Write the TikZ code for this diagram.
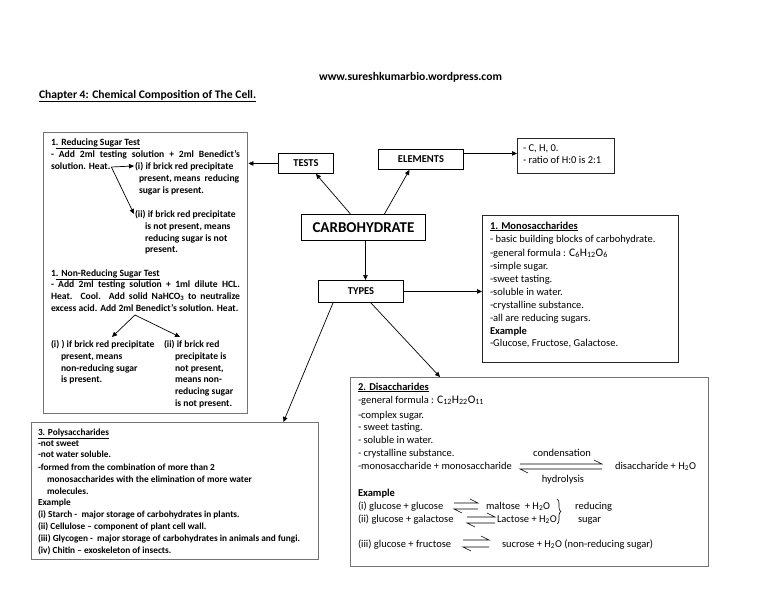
\documentclass[tikz,border=0pt]{standalone}
\usepackage{fontspec}
\setmainfont{Carlito}
\usetikzlibrary{arrows.meta,decorations.pathreplacing}
\newcommand{\fs}[1]{\fontsize{#1}{#1}\selectfont}
\newcommand{\eqharp}[4]{\draw[harp] (#1,#3) -- (#2,#3) -- ++(-8,-4); \draw[harp] (#2,#4) -- (#1,#4) -- ++(8,4);}
\begin{document}
\begin{tikzpicture}[x=1pt,y=-1pt,
  tl/.style={anchor=base west,inner sep=0pt,outer sep=0pt},
  tc/.style={anchor=base,inner sep=0pt,outer sep=0pt},
  bigbox/.style={draw=black!55,line width=1.4pt,anchor=north west,inner sep=0pt},
  thinbox/.style={draw=black!85,line width=0.9pt,anchor=north west,inner sep=0pt},
  lbl/.style={draw=black,line width=0.9pt,anchor=north west,inner sep=0pt,font=\bfseries\fs{10.5}},
  arr/.style={line width=0.7pt,-{Triangle[length=5pt,width=4.5pt]}},
  harp/.style={line width=0.6pt},
]
\useasboundingbox[fill=white] (0,0) rectangle (768,594);

% header
\node[tc,font=\bfseries\fs{11.6}] (url) at (410.5,81) {www.sureshkumarbio.wordpress.com};
\node[tl,font=\bfseries\fs{11.6}] (chap) at (39,98) {\underline{Chapter 4: Chemical Composition of The Cell.}};

% boxes
\node[bigbox,minimum width=204pt,minimum height=281pt] (lbox) at (43,132) {};
\node[thinbox,minimum width=97pt,minimum height=35pt] (ebox) at (517,138) {};
\node[thinbox,minimum width=196pt,minimum height=147pt] (mbox) at (482,215) {};
\node[bigbox,minimum width=358pt,minimum height=189pt] (dbox) at (350,377) {};
\node[bigbox,minimum width=287pt,minimum height=137pt] (pbox) at (31,422) {};

% label boxes
\node[lbl,minimum width=55pt,minimum height=20pt] (tests) at (278,153) {TESTS};
\node[lbl,minimum width=85pt,minimum height=20pt] (elements) at (378,149) {ELEMENTS};
\node[lbl,minimum width=124pt,minimum height=26pt,font=\bfseries\fs{15}] (carb) at (301,214) {CARBOHYDRATE};
\node[lbl,minimum width=85pt,minimum height=22pt] (types) at (318,280) {TYPES};

% connectors
\draw[arr] (tests.west) -- (tests.west -| lbox.east);
\draw[arr] ([xshift=-13pt]carb.north) -- ([xshift=10pt]tests.south);
\draw[arr] ([xshift=21pt]carb.north) -- ([xshift=-11.5pt]elements.south);
\draw[arr] ([yshift=6pt]elements.east) -- ([yshift=6pt]elements.east -| ebox.west);
\draw[arr] ([xshift=2pt]carb.south) -- ([xshift=2pt]carb.south |- types.north);
\draw[arr] (types.east) -- (types.east -| mbox.west);
\draw[arr] ([xshift=15pt]types.south west) -- ([xshift=-36pt]pbox.north east);
\draw[arr] ([xshift=-33pt]types.south east) -- ([xshift=90pt]dbox.north west);

% left box: reducing sugar test
\foreach \x/\y/\t [count=\i] in {
 51/145/{1\underline{. Reducing Sugar Test}},
 51/157/{\makebox[189pt][s]{- Add 2ml testing solution + 2ml Benedict's}},
 51/169/{solution. Heat.},
 135/169/{(i) if brick red precipitate},
 139/181/{present, means \ reducing},
 139/193/{sugar is present.},
 135/217/{(ii) if brick red precipitate},
 145/229/{is not present, means},
 145/241/{reducing sugar is not},
 145/252/{present.}}
 \node[tl,font=\bfseries\fs{9.6}] (ra\i) at (\x,\y) {\t};
\draw[arr] ([xshift=1pt,yshift=2pt]ra3.base east) -- ([xshift=-1pt,yshift=3pt]ra4.base west);
\draw[arr] ([xshift=1pt,yshift=2pt]ra3.base east) -- ([xshift=-1pt,yshift=3pt]ra7.base west);

% left box: non-reducing sugar test
\foreach \x/\y/\t [count=\i] in {
 51/276/{1\underline{. Non-Reducing Sugar Test}},
 51/287/{\makebox[189pt][s]{- Add 2ml testing solution + 1ml dilute HCL.}},
 51/299/{\makebox[189pt][s]{Heat. Cool. Add solid NaHCO\textsubscript{3} to neutralize}},
 51/311/{excess acid. Add 2ml Benedict's solution. Heat.},
 51/347/{(i) ) if brick red precipitate},
 61/359/{present, means},
 61/371/{non-reducing sugar},
 61/382/{is present.},
 164/347/{(ii) if brick red},
 175/359/{precipitate is},
 175/371/{not present,},
 175/382/{means non-},
 175/394/{reducing sugar},
 175/406/{is not present.}}
 \node[tl,font=\bfseries\fs{9.6}] (rb\i) at (\x,\y) {\t};
\coordinate (nrf) at (135,315);
\coordinate (nra) at (112,337);
\coordinate (nrb) at (180,337);
\draw[arr] (nrf) -- (nra);
\draw[arr] (nrf) -- (nrb);

% elements text
\node[tl,font=\fs{10.5}] (e1) at (523,151) {- C, H, 0.};
\node[tl,font=\fs{10.5}] (e2) at (523,163) {- ratio of H:0 is 2:1};

% monosaccharides
\foreach \y/\t [count=\i] in {
 229/{\bfseries\underline{1. Monosaccharides}},
 242/{- basic building blocks of carbohydrate.},
 256/{-general formula : {\fs{11.5}C\textsubscript{6}H\textsubscript{12}O\textsubscript{6}}},
 269/{-simple sugar.},
 282/{-sweet tasting.},
 295/{-soluble in water.},
 308/{-crystalline substance.},
 321/{-all are reducing sugars.},
 334/{\bfseries Example},
 346/{-Glucose, Fructose, Galactose.}}
 \node[tl,font=\fs{10.5}] (mo\i) at (490,\y) {\t};

% polysaccharides
\foreach \x/\y/\t [count=\i] in {
 38/435/{\underline{3. Polysaccharides}},
 38/446/{-not sweet},
 38/457/{-not water soluble.},
 38/470/{-formed from the combination of more than 2},
 47/482/{monosaccharides with the elimination of more water},
 47/494/{molecules.},
 38/505/{Example},
 38/517/{(i) Starch - \ major storage of carbohydrates in plants.},
 38/529/{(ii) Cellulose – component of plant cell wall.},
 38/541/{(iii) Glycogen - \ major storage of carbohydrates in animals and fungi.},
 38/553/{(iv) Chitin – exoskeleton of insects.}}
 \node[tl,font=\bfseries\fs{9.3}] (po\i) at (\x,\y) {\t};

% disaccharides
\foreach \x/\y/\t [count=\i] in {
 358/390/{\bfseries\underline{2. Disaccharides}},
 358/403/{-general formula : {\fs{11.5}C\textsubscript{12}H\textsubscript{22}O\textsubscript{11}}},
 358/418/{-complex sugar.},
 358/430/{- sweet tasting.},
 358/443/{- soluble in water.},
 358/456/{- crystalline substance.},
 358/469/{-monosaccharide + monosaccharide},
 615/469/{disaccharide + H\textsubscript{2}O},
 358/496/{\bfseries Example},
 358/509/{(i) glucose + glucose},
 486/509/{maltose \ + H\textsubscript{2}O},
 575/509/{reducing},
 358/522/{(ii) glucose + galactose},
 497/522/{Lactose + H\textsubscript{2}O},
 578/522/{sugar},
 358/547/{(iii) glucose + fructose},
 502/547/{sucrose + H\textsubscript{2}O (non-reducing sugar)}}
 \node[tl,font=\fs{10.5}] (di\i) at (\x,\y) {\t};
\node[tc,font=\fs{10.5}] (cond) at (562,456) {condensation};
\node[tc,font=\fs{10.5}] (hydr) at (563,482) {hydrolysis};

\eqharp{520}{602}{464}{469}
\eqharp{454}{478}{503}{509}
\eqharp{467}{495}{517}{523}
\eqharp{463}{489}{540}{547}
\draw[line width=0.6pt,decorate,decoration={brace,amplitude=4pt}] (557,499) -- (557,524);
\end{tikzpicture}
\end{document}
